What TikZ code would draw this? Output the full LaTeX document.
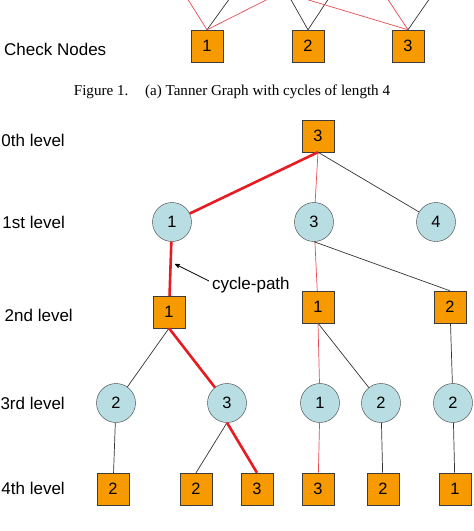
\documentclass[tikz,border=0pt]{standalone}
\usepackage{fontspec}
\setmainfont{Liberation Sans}
\newfontfamily\capfont{Liberation Serif}
\usetikzlibrary{arrows,shapes,positioning}
\definecolor{chkorange}{RGB}{247,154,0}
\definecolor{varblue}{RGB}{184,221,226}
\definecolor{cycred}{RGB}{230,28,34}
\definecolor{edgered}{RGB}{234,72,84}
\definecolor{rim}{RGB}{60,60,60}

\begin{document}
\begin{tikzpicture}[x=1pt,y=-1pt]
\tikzstyle{checknode}=[draw=rim, fill=chkorange, shape=rectangle, minimum size=32pt, inner sep=0pt, font=\fontsize{16.4}{18}\selectfont]
\tikzstyle{varnode}=[draw=rim, fill=varblue, shape=circle, minimum size=39pt, inner sep=0pt, font=\fontsize{16.4}{18}\selectfont]
\tikzstyle{levellabel}=[anchor=east, inner sep=0pt, font=\fontsize{17}{19}\selectfont]
\tikzstyle{plainedge}=[draw=black!80, line width=0.7pt]
\tikzstyle{rededge}=[draw=edgered, line width=0.7pt]
\tikzstyle{cycleedge}=[draw=cycred, line width=2.6pt]
\useasboundingbox (0,0) rectangle (474,531);

% part (a): check nodes
\node[checknode] (ck1) at (207,46) {1};
\node[checknode] (ck2) at (308,46) {2};
\node[checknode] (ck3) at (408,46) {3};
\node[levellabel, anchor=west] (cklabel) at (4,49) {Check Nodes};
\coordinate (t1) at (187,-2);
\coordinate (t2) at (230,-2);
\coordinate (t3) at (270,-2);
\coordinate (t4) at (290,-2);
\coordinate (t5) at (329,-2);
\coordinate (t6) at (302,-2);
\coordinate (t7) at (387,-2);
\coordinate (t8) at (430,-2);
\draw[rededge] (t1) to (ck1.north);
\draw[plainedge] (t2) to (ck1.north);
\draw[rededge] (t3) to (ck1.north);
\draw[plainedge] (t4) to (ck2.north);
\draw[plainedge] (t5) to (ck2.north);
\draw[rededge] (t6) to (ck3.north);
\draw[rededge] (t7) to (ck3.north);
\draw[plainedge] (t8) to (ck3.north);
\node[font=\capfont\fontsize{15.1}{17}\selectfont] (cap) at (232,92) {Figure 1.\hspace{1.1em}(a) Tanner Graph with cycles of length 4};

% part (b): tree
\node[levellabel] (lv0) at (65,140) {0th level};
\node[levellabel] (lv1) at (65,222) {1st level};
\node[levellabel] (lv2) at (73,315) {2nd level};
\node[levellabel] (lv3) at (65,403) {3rd level};
\node[levellabel] (lv4) at (65,488) {4th level};

\node[checknode] (l0) at (318,136) {3};

\node[varnode] (l1a) at (172,222) {1};
\node[varnode] (l1b) at (314,222) {3};
\node[varnode] (l1c) at (436,222) {4};

\node[checknode] (l2a) at (169,312) {1};
\node[checknode] (l2b) at (318,307) {1};
\node[checknode] (l2c) at (450,307) {2};

\node[varnode] (l3a) at (116,403) {2};
\node[varnode] (l3b) at (227,403) {3};
\node[varnode] (l3c) at (320,403) {1};
\node[varnode] (l3d) at (381,403) {2};
\node[varnode] (l3e) at (453,403) {2};

\node[checknode] (l4a) at (113,489) {2};
\node[checknode] (l4b) at (196,489) {2};
\node[checknode] (l4c) at (257,489) {3};
\node[checknode] (l4d) at (318,489) {3};
\node[checknode] (l4e) at (383,489) {2};
\node[checknode] (l4f) at (455,489) {1};

\draw[cycleedge] (l0.south) to (l1a);
\draw[rededge] (l0.south) to (l1b);
\draw[plainedge] (l0.south) to (l1c);
\draw[cycleedge] (l1a) to (l2a);
\draw[rededge] (l1b) to (l2b);
\draw[plainedge] (l1b.south) to (l2c.north);
\draw[plainedge] (l2a.south) to (l3a);
\draw[cycleedge] (l2a.south) to (l3b);
\draw[rededge] (l2b.south) to (l3c);
\draw[plainedge] (l2b.south) to (l3d);
\draw[plainedge] (l2c) to (l3e);
\draw[plainedge] (l3a) to (l4a);
\draw[plainedge] (l3b.south) to (l4b.north);
\draw[cycleedge] (l3b.south) to (l4c.north);
\draw[rededge] (l3c) to (l4d);
\draw[plainedge] (l3d) to (l4e);
\draw[plainedge] (l3e) to (l4f);

\node[levellabel, anchor=west] (cp) at (212,285) {cycle-path};
\coordinate (cptip) at (175,264);
\draw[->, >=stealth', line width=0.8pt] ([xshift=-3pt,yshift=4pt]cp.west) to (cptip);

\end{tikzpicture}
\end{document}
